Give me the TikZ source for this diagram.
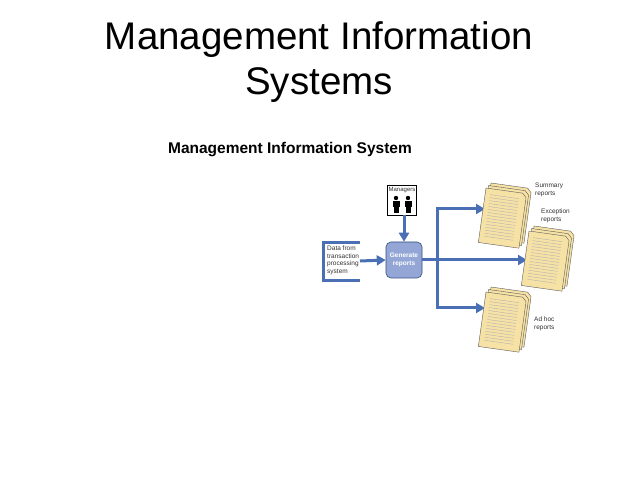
\documentclass[tikz,border=0pt]{standalone}
\usepackage{fontspec}
\setmainfont{Liberation Sans}
\usetikzlibrary{arrows.meta}
\definecolor{arr}{HTML}{4A6FB5}
\definecolor{gen}{HTML}{94A6D6}
\definecolor{paper}{HTML}{F7E2A6}
\newcommand{\docstack}[2]{%
  \foreach \k in {2,1,0}{%
    \begin{scope}[shift={(#1+\k*2.5,#2-\k*2.5)},rotate=-8]
      \draw[fill=paper,draw=gray!70!black,line width=0.4pt] (0,0) -- (37,0) -- (41,4) -- (41,55) -- (0,55) -- cycle;
      \ifnum\k=0
        \foreach \j in {6,9,...,50}{\draw[gray!60,line width=0.4pt] (5,\j) -- (34,\j);}
      \fi
    \end{scope}}}
\begin{document}
\begin{tikzpicture}[x=1pt,y=-1pt,
  ar/.style={draw=arr,line width=3pt,-{Triangle[length=9pt,width=10pt]}},
  ln/.style={draw=arr,line width=3pt},
  small/.style={font=\fontsize{6.5}{7.5}\selectfont,text=black!80,align=left,inner sep=0pt,anchor=north west}]
\useasboundingbox (0,0) rectangle (638,478);
\fill[white] (0,0) rectangle (638,478);
\node[font=\fontsize{38.5}{45}\selectfont,align=center] (title) at (319,62) {Management Information\\Systems};
\node[font=\bfseries\fontsize{15.5}{17}\selectfont] (sub) at (290,150) {Management Information System};
% data store
\draw[ln] (360,243) -- (323,243) -- (323,281) -- (360,281);
\node[small] (data) at (327,246) {Data from\\transaction\\processing\\system};
\coordinate (dsr) at (360,261);
% generate
\node[draw=arr!70!black,fill=gen,rounded corners=5pt,minimum width=36pt,minimum height=36pt,
  font=\bfseries\fontsize{6.5}{8}\selectfont,text=white,align=center,line width=0.6pt] (gen) at (404,260) {Generate\\reports};
% managers
\node[draw,line width=0.8pt,minimum width=29pt,minimum height=30pt,fill=white] (mgr) at (402,200) {};
\node[font=\fontsize{6}{7}\selectfont,text=black!80,inner sep=0pt] (mgrl) at (402,190) {Managers};
\foreach \dx in {-6,6}{
  \fill (402+\dx,198) circle (2.2);
  \fill (402+\dx-3.5,201) rectangle (402+\dx+3.5,207);
  \fill (402+\dx-2.5,207) rectangle (402+\dx+2.5,213);
}
\draw[ar] (mgr.south -| gen.north) -- (gen.north);
\draw[ar] (dsr) -- (gen.west);
% branches
\coordinate (br) at (437,260);
\coordinate (bt) at (437,209);
\coordinate (bb) at (437,308);
\coordinate (et) at (485,209);
\coordinate (em) at (527,260);
\coordinate (eb) at (485,308);
\draw[ln] (gen.east) -- (br);
\draw[ln] (bt) -- (bb);
\draw[ar] ([xshift=-1.5pt]bt) -- (et);
\draw[ar] (br) -- (em);
\draw[ar] ([xshift=-1.5pt]bb) -- (eb);
% documents
\docstack{486}{188}
\docstack{529}{231}
\docstack{486}{292}
\node[small] (sr) at (535,183) {Summary\\reports};
\node[small] (er) at (541,209) {Exception\\reports};
\node[small] (ar) at (534,317) {Ad hoc\\reports};
\end{tikzpicture}
\end{document}
